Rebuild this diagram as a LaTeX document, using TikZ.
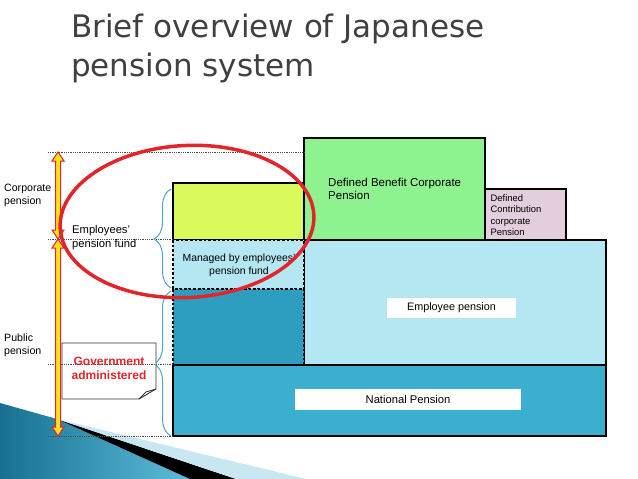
\documentclass[tikz,border=0pt]{standalone}
\usepackage{fontspec}
\setmainfont{Liberation Sans}
\newfontfamily\titlefont{DejaVu Sans}
\usetikzlibrary{decorations.pathreplacing}
\definecolor{dbgreen}{HTML}{8EF38E}
\definecolor{dcpink}{HTML}{E2CEDC}
\definecolor{ygreen}{HTML}{DAF95C}
\definecolor{lblue}{HTML}{B5E7F3}
\definecolor{mblue}{HTML}{2E9EC0}
\definecolor{npblue}{HTML}{3BAFCF}
\definecolor{bracecol}{HTML}{4BA8C2}
\definecolor{titlegray}{HTML}{404040}
\definecolor{redc}{HTML}{E3242B}
\definecolor{arrowyellow}{HTML}{FFE21A}
\definecolor{tealdark}{HTML}{17708F}
\definecolor{teallight}{HTML}{5DBDDB}
\definecolor{wedgeblue}{HTML}{C9E7F1}
\begin{document}
\begin{tikzpicture}[x=1pt,y=-1pt,
  block/.style={draw=black, line width=1.2pt},
  dotbox/.style={draw=black, line width=2.4pt, dash pattern=on 2.6pt off 2pt},
  guide/.style={draw=black!70, line width=0.7pt, dash pattern=on 0.9pt off 0.9pt},
  lbl/.style={inner sep=0pt, align=left, font=\fontsize{10.6}{13}\selectfont},
  whitelbl/.style={fill=white, inner sep=0pt, font=\fontsize{10.8}{13}\selectfont},
  bracestyle/.style={draw=bracecol, line width=1pt, decorate},
  yarrow/.style={fill=arrowyellow, draw=redc, line width=1pt, line join=miter}
]
\useasboundingbox (0,0) rectangle (638,479);
\fill[white] (0,0) rectangle (638,479);

% title
\node[anchor=base west, inner sep=0pt, text=titlegray, font=\titlefont\fontsize{31}{38}\selectfont] (title1) at (71,37.5) {Brief overview of Japanese};
\node[anchor=base west, inner sep=0pt, text=titlegray, font=\titlefont\fontsize{31}{38}\selectfont] (title2) at (71,76) {pension system};

% bottom-left slide decoration
\shade[left color=tealdark, right color=teallight] (0,403) -- (57,419) -- (190,479) -- (0,479) -- cycle;
\fill[black] (57,419) -- (236,479) -- (190,479) -- cycle;
\fill[wedgeblue] (57,419) -- (306,479) -- (236,479) -- cycle;

% blocks
\filldraw[block, fill=dbgreen] (304,138) rectangle (485,240);
\filldraw[block, fill=dcpink] (485,189) rectangle (566,240);
\filldraw[block, fill=ygreen] (173,183) rectangle (304,240);
\filldraw[block, fill=lblue] (304,240) rectangle (606,365);
\filldraw[dotbox, fill=lblue] (173,240) rectangle (304,289);
\filldraw[dotbox, fill=mblue] (173,289) rectangle (304,365);
\filldraw[block, line width=1.6pt, fill=npblue] (173,365) rectangle (606,436);

% block texts
\node[lbl, anchor=north west, font=\fontsize{11.5}{13}\selectfont] (db) at (328,178) {Defined Benefit Corporate\\Pension};
\node[lbl, anchor=north west, font=\fontsize{9.4}{11.4}\selectfont] (dc) at (490.5,194.5) {Defined\\Contribution\\corporate\\Pension};
\node[inner sep=0pt, align=center, font=\fontsize{10.4}{13}\selectfont] (managed) at (239,265.5) {Managed by employees’\\pension fund};
\node[whitelbl, minimum width=129pt, minimum height=20pt] (ep) at (451.5,307.5) {Employee pension};
\node[whitelbl, minimum width=226pt, minimum height=21pt, font=\fontsize{11.2}{13}\selectfont] (np) at (408,399.5) {National Pension};

% guide lines
\draw[guide] (48,152) -- (304,152);
\draw[guide] (48,239) -- (173,239);
\draw[guide] (48,436) -- (173,436);

% braces
\draw[bracestyle, decoration={brace, amplitude=17pt, aspect=0.495}] (171,288) -- (171,189);
\draw[bracestyle, decoration={brace, amplitude=17pt, aspect=0.497}] (171,436) -- (171,291);

% left labels
\node[lbl, anchor=north west] (corp) at (4,184) {Corporate\\pension};
\node[lbl, anchor=north west] (pub) at (4,334) {Public\\pension};
\node[lbl, anchor=north west, font=\fontsize{11.2}{14}\selectfont] (epf) at (72,225) {Employees’\\pension fund};

% government administered note
\filldraw[draw=black!80, line width=0.9pt, fill=white] (62,343) -- (156,343) -- (156,389) -- (139,399) -- (62,399) -- cycle;
\draw[draw=black!80, line width=0.9pt] (156,389) -- (146,392) -- (139,399);
\draw[guide] (48,364) -- (173,364);
\node[inner sep=0pt, align=center, text=redc, font=\bfseries\fontsize{12}{14}\selectfont] (gov) at (109,368) {Government\\administered};

% yellow double arrows
\filldraw[yarrow] (58,152) -- (64,161) -- (60.5,161) -- (60.5,230) -- (64,230) -- (58,239) -- (52,230) -- (55.5,230) -- (55.5,161) -- (52,161) -- cycle;
\filldraw[yarrow] (58,239) -- (64,248) -- (60.5,248) -- (60.5,427) -- (64,427) -- (58,436) -- (52,427) -- (55.5,427) -- (55.5,248) -- (52,248) -- cycle;

% red ellipse
\draw[redc, line width=3.5pt, rotate around={3:(187,221.5)}] (187,221.5) ellipse [x radius=127, y radius=76];
\end{tikzpicture}
\end{document}
